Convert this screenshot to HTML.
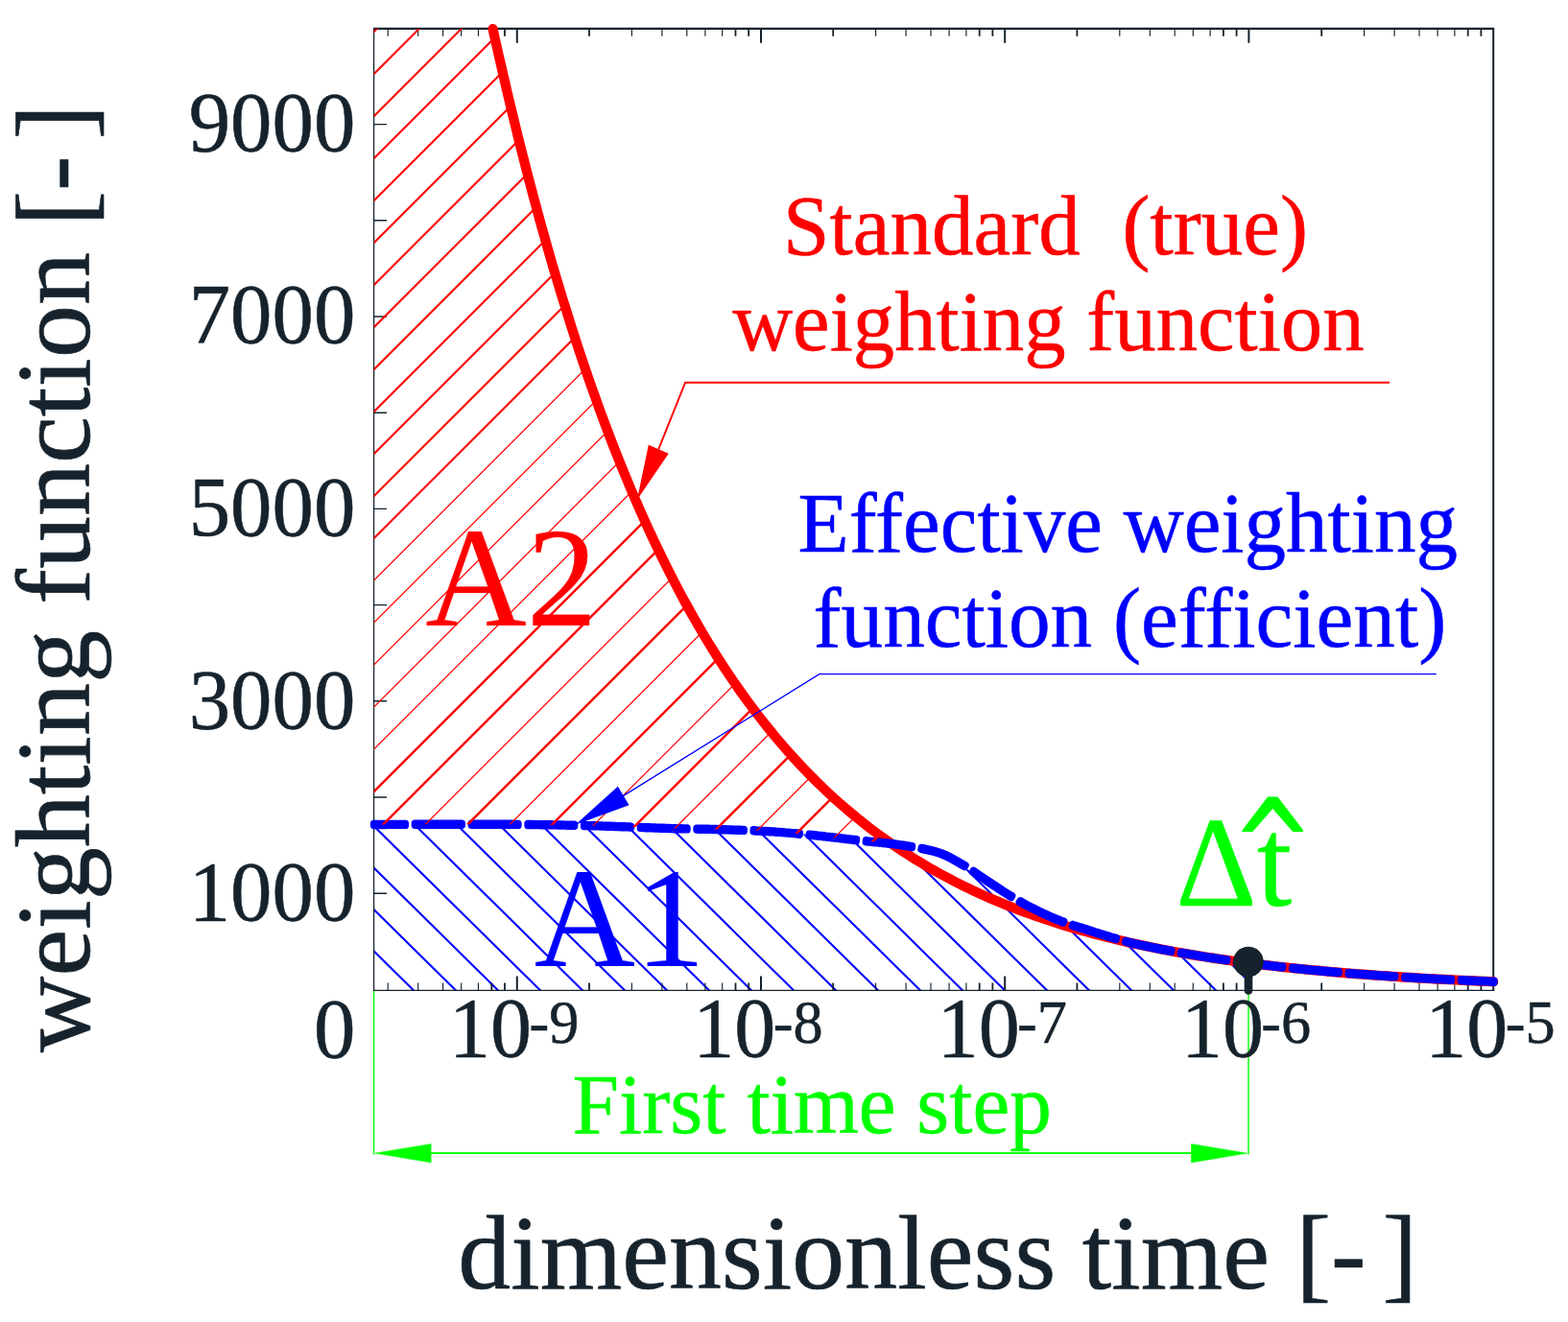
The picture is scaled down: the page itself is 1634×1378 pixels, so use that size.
<!DOCTYPE html>
<html lang="en"><head><meta charset="utf-8"><title>Weighting function</title>
<style>html,body{margin:0;padding:0;background:#fff}svg{display:block}</style></head>
<body>
<svg width="1634" height="1378" viewBox="0 0 1634 1378" role="img" aria-label="Weighting function versus dimensionless time">
<rect width="1634" height="1378" fill="#fff"/>
<defs>
<clipPath id="cb"><path d="M389.6 1032.4 L389.6 859.5 L393.6 859.5 L397.6 859.5 L401.6 859.5 L405.6 859.4 L409.6 859.4 L413.6 859.4 L417.6 859.4 L421.6 859.4 L425.6 859.4 L429.6 859.3 L433.6 859.3 L437.6 859.3 L441.6 859.3 L445.6 859.3 L449.6 859.3 L453.6 859.3 L457.6 859.3 L461.6 859.3 L465.6 859.3 L469.6 859.3 L473.6 859.3 L477.6 859.3 L481.6 859.3 L485.6 859.3 L489.6 859.3 L493.6 859.3 L497.6 859.3 L501.6 859.3 L505.6 859.3 L509.6 859.3 L513.6 859.3 L517.6 859.3 L521.6 859.3 L525.6 859.3 L529.6 859.3 L533.6 859.3 L537.6 859.4 L541.6 859.4 L545.6 859.4 L549.6 859.5 L553.6 859.5 L557.6 859.6 L561.6 859.6 L565.6 859.7 L569.6 859.8 L573.6 859.8 L577.6 859.9 L581.6 860 L585.6 860 L589.6 860.1 L593.6 860.2 L597.6 860.3 L601.6 860.3 L605.6 860.4 L609.6 860.5 L613.6 860.6 L617.6 860.7 L621.6 860.9 L625.6 861 L629.6 861.1 L633.6 861.2 L637.6 861.4 L641.6 861.5 L645.6 861.7 L649.6 861.8 L653.6 861.9 L657.6 862.1 L661.6 862.2 L665.6 862.4 L669.6 862.5 L673.6 862.7 L677.6 862.8 L681.6 863 L685.6 863.1 L689.6 863.3 L693.6 863.4 L697.6 863.5 L701.6 863.6 L705.6 863.7 L709.6 863.8 L713.6 863.9 L717.6 864 L721.6 864 L725.6 864.1 L729.6 864.2 L733.6 864.3 L737.6 864.3 L741.6 864.4 L745.6 864.5 L749.6 864.6 L753.6 864.7 L757.6 864.8 L761.6 865 L765.6 865.1 L769.6 865.2 L773.6 865.4 L777.6 865.5 L781.6 865.7 L785.6 865.9 L789.6 866 L793.6 866.2 L797.6 866.4 L801.6 866.7 L805.6 866.9 L809.6 867.2 L813.6 867.5 L817.6 867.8 L821.6 868.1 L825.6 868.5 L829.6 868.8 L833.6 869.2 L837.6 869.6 L841.6 870 L845.6 870.4 L849.6 870.8 L853.6 871.2 L857.6 871.7 L861.6 872.1 L865.6 872.6 L869.6 873 L873.6 873.5 L877.6 874 L881.6 874.4 L885.6 874.9 L889.6 875.4 L893.6 875.8 L897.6 876.3 L901.6 876.7 L905.6 877.1 L909.6 877.5 L913.6 877.9 L917.6 878.3 L921.6 878.7 L925.6 879.1 L929.6 879.6 L933.6 880.1 L937.6 880.7 L941.6 881.2 L945.6 881.9 L949.6 882.5 L953.6 883.2 L957.6 883.9 L961.6 884.7 L965.6 885.5 L969.6 886.5 L973.6 887.5 L977.6 888.7 L981.6 890 L985.6 891.7 L989.6 893.7 L993.6 895.9 L997.6 898.1 L1001.6 900.5 L1005.6 902.8 L1009.6 905.3 L1013.6 907.9 L1017.6 910.7 L1021.6 913.4 L1025.6 916.1 L1029.6 918.7 L1033.6 921.4 L1037.6 924 L1041.6 926.7 L1045.6 929.3 L1049.6 931.8 L1053.6 934.2 L1057.6 936.6 L1061.6 939 L1065.6 941.2 L1069.6 943.5 L1073.6 945.6 L1077.6 947.6 L1081.6 949.5 L1085.6 951.4 L1089.6 953.3 L1093.6 955.1 L1097.6 956.8 L1101.6 958.5 L1105.6 960.1 L1109.6 961.6 L1113.6 963 L1117.6 964.3 L1121.6 965.6 L1125.6 966.9 L1129.6 968.1 L1133.6 969.4 L1137.6 970.6 L1141.6 971.9 L1145.6 973.2 L1149.6 974.4 L1153.6 975.7 L1157.6 976.9 L1161.6 978.1 L1165.6 979.2 L1169.6 980.4 L1173.6 981.5 L1177.6 982.5 L1181.6 983.5 L1185.6 984.4 L1189.6 985.2 L1193.6 986.1 L1197.6 986.9 L1201.6 987.7 L1205.6 988.5 L1209.6 989.3 L1213.6 990.1 L1217.6 990.8 L1221.6 991.6 L1225.6 992.3 L1229.6 993 L1233.6 993.7 L1237.6 994.4 L1241.6 995.1 L1245.6 995.7 L1249.6 996.4 L1253.6 997 L1257.6 997.7 L1261.6 998.3 L1265.6 998.9 L1269.6 999.5 L1273.6 1000.1 L1277.6 1000.6 L1281.6 1001.2 L1285.6 1001.8 L1289.6 1002.3 L1293.6 1002.8 L1297.6 1003.4 L1301 1003.8 L1301 1032.4Z"/></clipPath>
<clipPath id="cr"><path d="M389.6 29.9 L389.6 859.5 L389.6 859.5 L393.6 859.5 L397.6 859.5 L401.6 859.5 L405.6 859.4 L409.6 859.4 L413.6 859.4 L417.6 859.4 L421.6 859.4 L425.6 859.4 L429.6 859.3 L433.6 859.3 L437.6 859.3 L441.6 859.3 L445.6 859.3 L449.6 859.3 L453.6 859.3 L457.6 859.3 L461.6 859.3 L465.6 859.3 L469.6 859.3 L473.6 859.3 L477.6 859.3 L481.6 859.3 L485.6 859.3 L489.6 859.3 L493.6 859.3 L497.6 859.3 L501.6 859.3 L505.6 859.3 L509.6 859.3 L513.6 859.3 L517.6 859.3 L521.6 859.3 L525.6 859.3 L529.6 859.3 L533.6 859.3 L537.6 859.4 L541.6 859.4 L545.6 859.4 L549.6 859.5 L553.6 859.5 L557.6 859.6 L561.6 859.6 L565.6 859.7 L569.6 859.8 L573.6 859.8 L577.6 859.9 L581.6 860 L585.6 860 L589.6 860.1 L593.6 860.2 L597.6 860.3 L601.6 860.3 L605.6 860.4 L609.6 860.5 L613.6 860.6 L617.6 860.7 L621.6 860.9 L625.6 861 L629.6 861.1 L633.6 861.2 L637.6 861.4 L641.6 861.5 L645.6 861.7 L649.6 861.8 L653.6 861.9 L657.6 862.1 L661.6 862.2 L665.6 862.4 L669.6 862.5 L673.6 862.7 L677.6 862.8 L681.6 863 L685.6 863.1 L689.6 863.3 L693.6 863.4 L697.6 863.5 L701.6 863.6 L705.6 863.7 L709.6 863.8 L713.6 863.9 L717.6 864 L721.6 864 L725.6 864.1 L729.6 864.2 L733.6 864.3 L737.6 864.3 L741.6 864.4 L745.6 864.5 L749.6 864.6 L753.6 864.7 L757.6 864.8 L761.6 865 L765.6 865.1 L769.6 865.2 L773.6 865.4 L777.6 865.5 L781.6 865.7 L785.6 865.9 L789.6 866 L793.6 866.2 L797.6 866.4 L801.6 866.7 L805.6 866.9 L809.6 867.2 L813.6 867.5 L817.6 867.8 L821.6 868.1 L825.6 868.5 L829.6 868.8 L833.6 869.2 L837.6 869.6 L841.6 870 L845.6 870.4 L849.6 870.8 L853.6 871.2 L857.6 871.7 L861.6 872.1 L865.6 872.6 L869.6 873 L873.6 873.5 L877.6 874 L881.6 874.4 L885.6 874.9 L889.6 875.4 L893.6 875.8 L897.6 876.3 L901.6 876.7 L905.6 877.1 L909.6 877.5 L913.6 877.9 L917.6 878.3 L921.6 878.7 L925.6 879.1 L929.5 879.6 L923.6 875.7 L917.6 871.4 L911.6 867 L905.6 862.4 L899.6 857.7 L893.6 852.9 L887.6 848 L881.6 842.9 L875.6 837.7 L869.6 832.4 L863.6 826.9 L857.6 821.2 L851.6 815.4 L845.6 809.4 L839.6 803.3 L834.6 798 L827.2 790 L820 782 L813.1 774 L806.3 766 L799.8 758 L793.5 750 L787.3 742 L781.3 734 L775.4 726 L769.7 718 L764.2 710 L758.8 702 L753.5 694 L748.3 686 L743.3 678 L738.3 670 L733.5 662 L728.8 654 L724.2 646 L719.6 638 L715.2 630 L710.8 622 L706.6 614 L702.4 606 L698.3 598 L694.3 590 L690.3 582 L686.4 574 L682.6 566 L678.8 558 L675.1 550 L671.5 542 L667.9 534 L664.4 526 L660.9 518 L657.5 510.1 L654.2 502.1 L650.9 494.1 L647.6 486.1 L644.4 478.1 L641.2 470.1 L638.1 462.1 L635 454.1 L632 446.1 L629 438.1 L626 430.1 L623.1 422.1 L620.3 414.1 L617.4 406.1 L614.6 398.1 L611.8 390.1 L609.1 382.1 L606.4 374.1 L603.7 366.1 L601.1 358.1 L598.5 350.1 L595.9 342.1 L593.4 334.1 L590.9 326.1 L588.4 318.1 L585.9 310.1 L583.5 302.1 L581.1 294.1 L578.7 286.1 L576.3 278.1 L574 270.1 L571.7 262.1 L569.4 254.1 L567.2 246.1 L564.9 238.1 L562.7 230.1 L560.5 222.1 L558.4 214.1 L556.2 206.1 L554.1 198.1 L552 190.1 L549.9 182.1 L547.8 174.1 L545.8 166.1 L543.7 158.1 L541.7 150.1 L539.7 142.1 L537.8 134.1 L535.8 126 L533.9 118 L531.9 110 L530 102 L528.1 94 L526.3 86 L524.4 78 L522.6 70 L520.7 62 L518.9 54 L517.1 46 L515.3 38 L513.6 30.1Z"/></clipPath>
</defs>
<path d="M384.6 1247.1L1306 2156.5M384.6 1203.6L1306 2113.1M384.6 1160.2L1306 2069.6M384.6 1116.8L1306 2026.2M384.6 1073.4L1306 1982.8M384.6 1029.9L1306 1939.3M384.6 986.5L1306 1895.9M384.6 943.1L1306 1852.5M384.6 899.6L1306 1809.1M384.6 856.2L1306 1765.6M384.6 812.8L1306 1722.2M384.6 769.4L1306 1678.8M384.6 725.9L1306 1635.4M384.6 682.5L1306 1591.9M384.6 639.1L1306 1548.5M384.6 595.6L1306 1505.1M384.6 552.2L1306 1461.6M384.6 508.8L1306 1418.2M384.6 465.4L1306 1374.8M384.6 421.9L1306 1331.4M384.6 378.5L1306 1287.9M384.6 335.1L1306 1244.5M384.6 291.7L1306 1201.1M384.6 248.2L1306 1157.6M384.6 204.8L1306 1114.2M384.6 161.4L1306 1070.8M384.6 117.9L1306 1027.4M384.6 74.5L1306 983.9M384.6 31.1L1306 940.5M384.6 -12.3L1306 897.1M384.6 -55.8L1306 853.6M384.6 -99.2L1306 810.2M384.6 -142.6L1306 766.8M384.6 -186.1L1306 723.4M384.6 -229.5L1306 679.9M384.6 -272.9L1306 636.5" stroke="#0000ff" stroke-width="2.1" fill="none" clip-path="url(#cb)"/>
<g stroke="#16232d" fill="none">
<path d="M389.6 29.95V1033.0" stroke-width="1.3"/>
<path d="M389.0 1032.4H1557.2" stroke-width="1.3"/>
<path d="M389.0 29.95H1557.2" stroke-width="2.2"/>
<path d="M1556.2 29.95V1033.0" stroke-width="2"/>
<path d="M404.2 1032.4v-7.9M404.2 29.95v7.9M435.7 1032.4v-7.9M435.7 29.95v7.9M461.6 1032.4v-7.9M461.6 29.95v7.9M480.7 1032.4v-7.9M480.7 29.95v7.9M498.5 1032.4v-7.9M498.5 29.95v7.9M658.4 1032.4v-7.9M658.4 29.95v7.9M689.9 1032.4v-7.9M689.9 29.95v7.9M715.8 1032.4v-7.9M715.8 29.95v7.9M734.9 1032.4v-7.9M734.9 29.95v7.9M752.7 1032.4v-7.9M752.7 29.95v7.9M912.6 1032.4v-7.9M912.6 29.95v7.9M944.1 1032.4v-7.9M944.1 29.95v7.9M970 1032.4v-7.9M970 29.95v7.9M989.1 1032.4v-7.9M989.1 29.95v7.9M1006.9 1032.4v-7.9M1006.9 29.95v7.9M1166.8 1032.4v-7.9M1166.8 29.95v7.9M1198.3 1032.4v-7.9M1198.3 29.95v7.9M1224.2 1032.4v-7.9M1224.2 29.95v7.9M1243.3 1032.4v-7.9M1243.3 29.95v7.9M1261.1 1032.4v-7.9M1261.1 29.95v7.9M1421.6 1032.4v-7.9M1421.6 29.95v7.9M1453.1 1032.4v-7.9M1453.1 29.95v7.9M1479 1032.4v-7.9M1479 29.95v7.9M1498.1 1032.4v-7.9M1498.1 29.95v7.9M1515.9 1032.4v-7.9M1515.9 29.95v7.9" stroke-width="1.15"/>
<path d="M512.3 1032.4v-7.9M512.3 29.95v7.9M526 1032.4v-7.9M526 29.95v7.9M614 1032.4v-7.9M614 29.95v7.9M766.5 1032.4v-7.9M766.5 29.95v7.9M780.2 1032.4v-7.9M780.2 29.95v7.9M868.2 1032.4v-7.9M868.2 29.95v7.9M1020.7 1032.4v-7.9M1020.7 29.95v7.9M1034.4 1032.4v-7.9M1034.4 29.95v7.9M1122.4 1032.4v-7.9M1122.4 29.95v7.9M1274.9 1032.4v-7.9M1274.9 29.95v7.9M1288.6 1032.4v-7.9M1288.6 29.95v7.9M1377.2 1032.4v-7.9M1377.2 29.95v7.9M1529.7 1032.4v-7.9M1529.7 29.95v7.9M1543.4 1032.4v-7.9M1543.4 29.95v7.9" stroke-width="1.8"/>
<path d="M538.8 1032.4v-14.9M538.8 29.95v14.9M793 1032.4v-14.9M793 29.95v14.9M1047.2 1032.4v-14.9M1047.2 29.95v14.9M1301.4 1032.4v-14.9M1301.4 29.95v14.9" stroke-width="2"/>
<path d="M389.6 931.2h13.5M389.6 831h13.5M389.6 730.8h13.5M389.6 630.6h13.5M389.6 530.4h13.5M389.6 430.2h13.5M389.6 330h13.5M389.6 229.8h13.5M389.6 129.6h13.5" stroke-width="1.4"/>
</g>
<path d="M513.6 30.1 L515.3 38 L517.1 46 L518.9 54 L520.7 62 L522.6 70 L524.4 78 L526.3 86 L528.1 94 L530 102 L531.9 110 L533.9 118 L535.8 126 L537.8 134.1 L539.7 142.1 L541.7 150.1 L543.7 158.1 L545.8 166.1 L547.8 174.1 L549.9 182.1 L552 190.1 L554.1 198.1 L556.2 206.1 L558.4 214.1 L560.5 222.1 L562.7 230.1 L564.9 238.1 L567.2 246.1 L569.4 254.1 L571.7 262.1 L574 270.1 L576.3 278.1 L578.7 286.1 L581.1 294.1 L583.5 302.1 L585.9 310.1 L588.4 318.1 L590.9 326.1 L593.4 334.1 L595.9 342.1 L598.5 350.1 L601.1 358.1 L603.7 366.1 L606.4 374.1 L609.1 382.1 L611.8 390.1 L614.6 398.1 L617.4 406.1 L620.3 414.1 L623.1 422.1 L626 430.1 L629 438.1 L632 446.1 L635 454.1 L638.1 462.1 L641.2 470.1 L644.4 478.1 L647.6 486.1 L650.9 494.1 L654.2 502.1 L657.5 510.1 L660.9 518 L664.4 526 L667.9 534 L671.5 542 L675.1 550 L678.8 558 L682.6 566 L686.4 574 L690.3 582 L694.3 590 L698.3 598 L702.4 606 L706.6 614 L710.8 622 L715.2 630 L719.6 638 L724.2 646 L728.8 654 L733.5 662 L738.3 670 L743.3 678 L748.3 686 L753.5 694 L758.8 702 L764.2 710 L769.7 718 L775.4 726 L781.3 734 L787.3 742 L793.5 750 L799.8 758 L806.3 766 L813.1 774 L820 782 L827.2 790 L834.6 798 L839.6 803.3 L845.6 809.4 L851.6 815.4 L857.6 821.2 L863.6 826.9 L869.6 832.4 L875.6 837.7 L881.6 842.9 L887.6 848 L893.6 852.9 L899.6 857.7 L905.6 862.4 L911.6 867 L917.6 871.4 L923.6 875.7 L929.6 879.9 L935.6 884 L941.6 887.9 L947.6 891.8 L953.6 895.6 L959.6 899.2 L965.6 902.8 L971.6 906.3 L977.6 909.6 L983.6 912.9 L989.6 916.1 L995.6 919.2 L1001.6 922.3 L1007.6 925.2 L1013.6 928.1 L1019.6 930.9 L1025.6 933.6 L1031.6 936.2 L1037.6 938.8 L1043.6 941.3 L1049.6 943.7 L1055.6 946.1 L1061.6 948.4 L1067.6 950.6 L1073.6 952.8 L1079.6 955 L1085.6 957 L1091.6 959 L1097.6 961 L1103.6 962.9 L1109.6 964.8 L1115.6 966.6 L1121.6 968.3 L1127.6 970 L1133.6 971.7 L1139.6 973.3 L1145.6 974.9 L1151.6 976.4 L1157.6 977.9 L1163.6 979.4 L1169.6 980.8 L1175.6 982.2 L1181.6 983.5 L1187.6 984.8 L1193.6 986.1 L1199.6 987.3 L1205.6 988.5 L1211.6 989.7 L1217.6 990.8 L1223.6 991.9 L1229.6 993 L1235.6 994.1 L1241.6 995.1 L1247.6 996.1 L1253.6 997 L1259.6 998 L1265.6 998.9 L1271.6 999.8 L1277.6 1000.6 L1283.6 1001.5 L1289.6 1002.3 L1295.6 1003.1 L1301.6 1003.9 L1307.6 1004.6 L1313.6 1005.4 L1319.6 1006.1 L1325.6 1006.8 L1331.6 1007.5 L1337.6 1008.1 L1343.6 1008.8 L1349.6 1009.4 L1355.6 1010 L1361.6 1010.6 L1367.6 1011.2 L1373.6 1011.7 L1379.6 1012.3 L1385.6 1012.8 L1391.6 1013.3 L1397.6 1013.8 L1403.6 1014.3 L1409.6 1014.8 L1415.6 1015.3 L1421.6 1015.7 L1427.6 1016.2 L1433.6 1016.6 L1439.6 1017 L1445.6 1017.4 L1451.6 1017.8 L1457.6 1018.2 L1463.6 1018.6 L1469.6 1018.9 L1475.6 1019.3 L1481.6 1019.6 L1487.6 1020 L1493.6 1020.3 L1499.6 1020.6 L1505.6 1020.9 L1511.6 1021.2 L1517.6 1021.5 L1523.6 1021.8 L1529.6 1022.1 L1535.6 1022.3 L1541.6 1022.6 L1547.6 1022.9 L1553.6 1023.1 L1556.2 1023.2" stroke="#ff0000" stroke-width="10.2" fill="none" stroke-linecap="round" stroke-linejoin="round"/>
<path d="M389.6 860.5 L391.8 860.5 L394.8 860.5 L397.8 860.5 L400.8 860.5 L403.8 860.4 L406.8 860.4 L409.8 860.4 L412.8 860.4 L415.8 860.4 L418.8 860.4 L421.8 860.4 L422.4 860.4 L422.4 858.4 L421.8 858.4 L418.8 858.4 L415.8 858.4 L412.8 858.4 L409.8 858.4 L406.8 858.4 L403.8 858.4 L400.8 858.5 L397.8 858.5 L394.8 858.5 L391.8 858.5 L389.6 858.5ZM432.4 860.3 L435.4 860.3 L438.4 860.3 L441.4 860.3 L444.4 860.3 L447.4 860.3 L450.4 860.3 L453.4 860.3 L456.4 860.3 L459.4 860.3 L462.4 860.3 L465.4 860.3 L468.4 860.3 L471.4 860.3 L474.4 860.3 L477.4 860.3 L480.4 860.3 L481.3 860.3 L481.3 858.3 L480.4 858.3 L477.4 858.3 L474.4 858.3 L471.4 858.3 L468.4 858.3 L465.4 858.3 L462.4 858.3 L459.4 858.3 L456.4 858.3 L453.4 858.3 L450.4 858.3 L447.4 858.3 L444.4 858.3 L441.4 858.3 L438.4 858.3 L435.4 858.3 L432.4 858.3ZM491.3 860.3 L494.3 860.3 L497.3 860.3 L500.3 860.3 L503.3 860.3 L506.3 860.3 L509.3 860.3 L512.3 860.3 L515.3 860.3 L518.3 860.3 L521.3 860.3 L524.3 860.3 L527.3 860.3 L530.3 860.3 L533.3 860.3 L536.3 860.4 L539.3 860.4 L540 860.4 L540 858.4 L539.3 858.4 L536.3 858.4 L533.3 858.3 L530.3 858.3 L527.3 858.3 L524.3 858.3 L521.3 858.3 L518.3 858.3 L515.3 858.3 L512.3 858.3 L509.3 858.3 L506.3 858.3 L503.3 858.3 L500.3 858.3 L497.3 858.3 L494.3 858.3 L491.3 858.3ZM550 860.5 L553 860.5 L556 860.6 L559 860.6 L562 860.6 L565 860.7 L568 860.7 L571 860.8 L574 860.8 L577 860.9 L580 860.9 L583 861 L586 861 L589 861.1 L592 861.2 L595 861.2 L598 861.3 L598.6 861.3 L598.6 859.3 L598 859.3 L595 859.2 L592 859.2 L589 859.1 L586 859 L583 859 L580 858.9 L577 858.9 L574 858.8 L571 858.8 L568 858.7 L565 858.7 L562 858.6 L559 858.6 L556 858.6 L553 858.5 L550 858.5ZM608.6 861.5 L611.6 861.6 L614.6 861.6 L617.6 861.7 L620.6 861.8 L623.6 861.9 L626.6 862 L629.6 862.1 L632.6 862.2 L635.6 862.3 L638.5 862.4 L641.5 862.5 L644.5 862.6 L647.5 862.7 L650.5 862.8 L653.5 862.9 L656.5 863 L657.4 863.1 L657.4 861.1 L656.6 861 L653.6 860.9 L650.6 860.8 L647.6 860.7 L644.6 860.6 L641.6 860.5 L638.6 860.4 L635.6 860.3 L632.6 860.2 L629.6 860.1 L626.6 860 L623.6 859.9 L620.6 859.8 L617.6 859.7 L614.6 859.6 L611.6 859.6 L608.6 859.5ZM667.4 863.4 L670.4 863.6 L673.4 863.7 L676.4 863.8 L679.3 863.9 L682.3 864 L685.3 864.1 L688.3 864.2 L691.3 864.3 L694.3 864.4 L697.3 864.5 L700.3 864.6 L703.4 864.7 L706.4 864.8 L709.4 864.8 L712.4 864.9 L715.4 864.9 L716 864.9 L716 862.9 L715.4 862.9 L712.4 862.9 L709.4 862.8 L706.4 862.8 L703.4 862.7 L700.4 862.6 L697.4 862.5 L694.4 862.4 L691.4 862.3 L688.4 862.2 L685.4 862.1 L682.4 862 L679.4 861.9 L676.4 861.8 L673.4 861.7 L670.4 861.6 L667.4 861.4ZM726 865.1 L729 865.2 L732 865.2 L735 865.3 L738 865.3 L741 865.4 L744 865.5 L747 865.5 L750 865.6 L753 865.7 L756 865.8 L759 865.9 L762 866 L765 866.1 L768 866.2 L770.9 866.3 L773.9 866.4 L775.2 866.4 L775.2 864.4 L774 864.4 L771 864.3 L768 864.2 L765 864.1 L762 864 L759 863.9 L756 863.8 L753 863.7 L750 863.6 L747 863.5 L744 863.5 L741 863.4 L738 863.3 L735 863.3 L732 863.2 L729 863.2 L726 863.1ZM785.2 866.8 L788.1 867 L791.1 867.1 L794.1 867.3 L797.1 867.4 L800.1 867.6 L803.1 867.8 L806.1 867.9 L809.1 868.2 L812.1 868.4 L815.1 868.6 L818 868.8 L821 869.1 L824 869.4 L827 869.6 L830 869.9 L833.1 870.2 L833.3 868.2 L830.2 867.9 L827.2 867.6 L824.2 867.4 L821.2 867.1 L818.2 866.9 L815.2 866.6 L812.2 866.4 L809.2 866.2 L806.2 865.9 L803.2 865.8 L800.2 865.6 L797.2 865.4 L794.2 865.3 L791.2 865.1 L788.2 865 L785.2 864.8ZM843.1 871.1 L846.1 871.4 L849 871.7 L852 872.1 L855 872.4 L858 872.7 L861 873.1 L863.9 873.4 L866.9 873.7 L869.9 874.1 L872.9 874.4 L875.9 874.8 L878.8 875.1 L881.8 875.5 L884.8 875.8 L887.8 876.2 L890.8 876.5 L892.3 876.7 L892.5 874.7 L891 874.5 L888 874.2 L885 873.8 L882 873.5 L879.1 873.1 L876.1 872.8 L873.1 872.4 L870.1 872.1 L867.1 871.8 L864.2 871.4 L861.2 871.1 L858.2 870.7 L855.2 870.4 L852.2 870.1 L849.3 869.8 L846.3 869.4 L843.3 869.1ZM902.3 877.8 L905.3 878.1 L908.2 878.4 L911.2 878.7 L914.2 878.9 L917.2 879.2 L920.2 879.6 L923.2 879.9 L926.1 880.2 L929.1 880.6 L932.1 880.9 L935 881.3 L938 881.7 L941 882.2 L943.9 882.6 L946.9 883.1 L950.2 883.6 L950.5 881.6 L947.2 881.1 L944.2 880.6 L941.3 880.2 L938.3 879.8 L935.3 879.4 L932.3 879 L929.3 878.6 L926.4 878.2 L923.4 877.9 L920.4 877.6 L917.4 877.3 L914.4 877 L911.4 876.7 L908.4 876.4 L905.5 876.1 L902.5 875.8ZM960 885.4 L963 886 L965.9 886.6 L968.8 887.3 L971.7 888 L974.5 888.8 L977.4 889.6 L980.2 890.6 L982.9 891.7 L985.6 892.9 L988.3 894.2 L990.9 895.5 L993.6 897 L996.2 898.5 L998.8 900 L1001.3 901.5 L1003.9 903 L1005 903.6 L1006.1 901.9 L1004.9 901.2 L1002.3 899.7 L999.8 898.2 L997.2 896.7 L994.5 895.2 L991.9 893.8 L989.2 892.4 L986.5 891 L983.7 889.8 L980.9 888.7 L978 887.7 L975.1 886.9 L972.2 886.1 L969.2 885.3 L966.3 884.7 L963.4 884 L960.4 883.4ZM1013.4 909 L1015.9 910.7 L1018.4 912.4 L1020.8 914.1 L1023.3 915.8 L1025.8 917.5 L1028.3 919.1 L1030.8 920.8 L1033.3 922.4 L1035.8 924.1 L1038.3 925.7 L1040.8 927.4 L1043.4 929 L1045.9 930.6 L1048.4 932.3 L1051 933.8 L1053.7 935.5 L1054.7 933.7 L1052 932.1 L1049.5 930.6 L1047 929 L1044.4 927.3 L1041.9 925.7 L1039.4 924.1 L1036.9 922.4 L1034.4 920.7 L1031.9 919.1 L1029.4 917.4 L1026.9 915.8 L1024.4 914.1 L1022 912.4 L1019.5 910.7 L1017 909 L1014.5 907.4ZM1062.3 940.5 L1064.9 942 L1067.6 943.5 L1070.2 944.9 L1072.9 946.3 L1075.6 947.7 L1078.3 949 L1081 950.3 L1083.7 951.6 L1086.4 952.9 L1089.1 954.2 L1091.9 955.4 L1094.6 956.6 L1097.4 957.8 L1100.2 959 L1103 960.1 L1105.8 961.2 L1107.9 962 L1108.7 960.2 L1106.5 959.3 L1103.7 958.2 L1100.9 957.1 L1098.2 956 L1095.4 954.8 L1092.7 953.6 L1090 952.4 L1087.2 951.1 L1084.5 949.8 L1081.8 948.5 L1079.1 947.2 L1076.5 945.9 L1073.8 944.6 L1071.2 943.2 L1068.5 941.7 L1065.9 940.3 L1063.3 938.8ZM1117.4 965.3 L1120.3 966.3 L1123.2 967.2 L1126 968.1 L1128.9 968.9 L1131.7 969.8 L1134.6 970.7 L1137.5 971.7 L1140.3 972.6 L1143.2 973.5 L1146 974.4 L1148.9 975.3 L1151.8 976.2 L1154.7 977 L1157.5 977.9 L1160.4 978.7 L1162.9 979.5 L1163.5 977.6 L1161 976.8 L1158.1 976 L1155.2 975.1 L1152.4 974.2 L1149.5 973.4 L1146.6 972.5 L1143.8 971.6 L1140.9 970.7 L1138.1 969.7 L1135.2 968.8 L1132.3 967.9 L1129.5 967 L1126.6 966.1 L1123.8 965.3 L1120.9 964.4 L1118 963.4ZM1172.6 982.2 L1175.5 983 L1178.4 983.8 L1181.3 984.5 L1184.3 985.1 L1187.2 985.7 L1190.1 986.4 L1193.1 987 L1196 987.6 L1198.9 988.2 L1201.9 988.8 L1204.8 989.4 L1207.8 990 L1210.7 990.5 L1213.7 991.1 L1216.6 991.6 L1219.6 992.2 L1220.5 992.4 L1220.9 990.4 L1219.9 990.2 L1217 989.7 L1214.1 989.1 L1211.1 988.6 L1208.2 988 L1205.2 987.4 L1202.3 986.8 L1199.3 986.2 L1196.4 985.6 L1193.5 985 L1190.5 984.4 L1187.6 983.8 L1184.7 983.2 L1181.8 982.5 L1178.9 981.8 L1176 981.1 L1173.1 980.3ZM1230.3 994.1 L1233.3 994.7 L1236.3 995.2 L1239.2 995.7 L1242.2 996.2 L1245.1 996.7 L1248.1 997.2 L1251.1 997.6 L1254 998.1 L1257 998.6 L1260 999 L1262.9 999.5 L1265.9 999.9 L1268.9 1000.4 L1271.8 1000.8 L1274.8 1001.3 L1277.8 1001.7 L1278.5 1001.8 L1278.8 999.8 L1278.1 999.7 L1275.1 999.3 L1272.1 998.8 L1269.2 998.4 L1266.2 998 L1263.2 997.5 L1260.3 997.1 L1257.3 996.6 L1254.3 996.1 L1251.4 995.7 L1248.4 995.2 L1245.5 994.7 L1242.5 994.2 L1239.6 993.7 L1236.6 993.2 L1233.6 992.7 L1230.7 992.2ZM1288.4 1003.2 L1291.4 1003.6 L1294.4 1004 L1297.3 1004.3 L1300.3 1004.7 L1303.3 1005.1 L1306.3 1005.5 L1309.3 1005.9 L1312.2 1006.2 L1315.2 1006.6 L1318.2 1006.9 L1321.2 1007.3 L1324.2 1007.6 L1327.1 1008 L1330.1 1008.3 L1333.1 1008.6 L1336.5 1009 L1336.7 1007 L1333.3 1006.7 L1330.3 1006.3 L1327.4 1006 L1324.4 1005.6 L1321.4 1005.3 L1318.4 1005 L1315.5 1004.6 L1312.5 1004.2 L1309.5 1003.9 L1306.5 1003.5 L1303.6 1003.1 L1300.6 1002.7 L1297.6 1002.4 L1294.6 1002 L1291.7 1001.6 L1288.7 1001.2ZM1346.5 1010.1 L1349.5 1010.4 L1352.4 1010.7 L1355.4 1011 L1358.4 1011.3 L1361.4 1011.6 L1364.4 1011.9 L1367.4 1012.2 L1370.4 1012.4 L1373.4 1012.7 L1376.3 1013 L1379.3 1013.3 L1382.3 1013.5 L1385.3 1013.8 L1388.3 1014.1 L1391.3 1014.3 L1394.3 1014.6 L1395.2 1014.6 L1395.4 1012.7 L1394.4 1012.6 L1391.5 1012.3 L1388.5 1012.1 L1385.5 1011.8 L1382.5 1011.5 L1379.5 1011.3 L1376.5 1011 L1373.5 1010.7 L1370.5 1010.5 L1367.6 1010.2 L1364.6 1009.9 L1361.6 1009.6 L1358.6 1009.3 L1355.6 1009 L1352.6 1008.7 L1349.7 1008.4 L1346.7 1008.1ZM1405.2 1015.5 L1408.2 1015.7 L1411.2 1015.9 L1414.2 1016.2 L1417.2 1016.4 L1420.2 1016.6 L1423.2 1016.8 L1426.2 1017.1 L1429.1 1017.3 L1432.1 1017.5 L1435.1 1017.7 L1438.1 1017.9 L1441.1 1018.1 L1444.1 1018.3 L1447.1 1018.5 L1450.1 1018.7 L1453.1 1018.9 L1453.7 1018.9 L1453.9 1017 L1453.2 1016.9 L1450.2 1016.7 L1447.2 1016.5 L1444.2 1016.3 L1441.3 1016.1 L1438.3 1015.9 L1435.3 1015.7 L1432.3 1015.5 L1429.3 1015.3 L1426.3 1015.1 L1423.3 1014.8 L1420.3 1014.6 L1417.3 1014.4 L1414.3 1014.2 L1411.3 1013.9 L1408.4 1013.7 L1405.4 1013.5ZM1463.7 1019.6 L1466.7 1019.8 L1469.7 1019.9 L1472.7 1020.1 L1475.7 1020.3 L1478.7 1020.5 L1481.7 1020.6 L1484.7 1020.8 L1487.7 1021 L1490.7 1021.1 L1493.7 1021.3 L1496.7 1021.5 L1499.7 1021.6 L1502.7 1021.8 L1505.7 1021.9 L1508.7 1022.1 L1511.7 1022.2 L1512.5 1022.3 L1512.6 1020.3 L1511.8 1020.2 L1508.8 1020.1 L1505.8 1019.9 L1502.8 1019.8 L1499.8 1019.6 L1496.8 1019.5 L1493.8 1019.3 L1490.8 1019.1 L1487.8 1019 L1484.8 1018.8 L1481.8 1018.6 L1478.8 1018.5 L1475.8 1018.3 L1472.8 1018.1 L1469.8 1017.9 L1466.8 1017.8 L1463.9 1017.6ZM1522.4 1022.7 L1525.4 1022.9 L1528.4 1023 L1531.4 1023.2 L1534.4 1023.3 L1537.4 1023.4 L1540.4 1023.6 L1543.4 1023.7 L1546.4 1023.8 L1549.4 1023.9 L1552.4 1024.1 L1555.4 1024.2 L1557 1024.2 L1557 1022.2 L1555.5 1022.2 L1552.5 1022.1 L1549.5 1021.9 L1546.5 1021.8 L1543.5 1021.7 L1540.5 1021.6 L1537.5 1021.4 L1534.5 1021.3 L1531.5 1021.2 L1528.5 1021 L1525.5 1020.9 L1522.5 1020.7Z" stroke="#0000ff" stroke-width="7.4" fill="#0000ff" stroke-linejoin="round"/>
<g clip-path="url(#cr)" stroke="#ff0000" fill="none"><path d="M384.6 -5.9L1000 -621.3M384.6 38.1L1000 -577.3M384.6 82.1L1000 -533.3M384.6 126.1L1000 -489.3M384.6 170.1L1000 -445.3M384.6 214.1L1000 -401.3M384.6 258.1L1000 -357.3M384.6 302.1L1000 -313.3M384.6 346.1L1000 -269.3M384.6 390.1L1000 -225.3M384.6 434.1L1000 -181.3M384.6 478.1L1000 -137.3M384.6 522.1L1000 -93.3M384.6 566.1L1000 -49.3" stroke-width="2.05"/><path d="M384.6 610.1L1000 -5.3M384.6 654.1L1000 38.7M384.6 698.1L1000 82.7M384.6 742.1L1000 126.7M384.6 786.1L1000 170.7M384.6 918.1L1000 302.7M384.6 1006.1L1000 390.7M384.6 1094.1L1000 478.7M384.6 1182.1L1000 566.7M384.6 1270.1L1000 654.7M384.6 1358.1L1000 742.7M384.6 1446.1L1000 830.7M384.6 1534.1L1000 918.7M384.6 1622.1L1000 1006.7M384.6 1710.1L1000 1094.7" stroke-width="1.25"/><path d="M384.6 830.1L1000 214.7M384.6 874.1L1000 258.7M384.6 962.1L1000 346.7M384.6 1050.1L1000 434.7M384.6 1138.1L1000 522.7M384.6 1226.1L1000 610.7M384.6 1314.1L1000 698.7M384.6 1402.1L1000 786.7M384.6 1490.1L1000 874.7M384.6 1578.1L1000 962.7M384.6 1666.1L1000 1050.7M384.6 1754.1L1000 1138.7" stroke-width="2.4"/></g>
<path d="M1448 398.8H714.1L686 468.9" stroke="#ff0000" stroke-width="1.9" fill="none"/>
<path d="M665.5 517.2L676.4 464.8L695.6 473Z" fill="#ff0000" stroke="#ff0000" stroke-width="1.6" stroke-linejoin="miter" stroke-miterlimit="20"/>
<path d="M1496.8 702.7H853.8L649 829.9" stroke="#0000ff" stroke-width="1.3" fill="none"/>
<path d="M603.1 857.6L643.7 820.9L654.4 838.8Z" fill="#0000ff" stroke="#0000ff" stroke-width="1.6" stroke-linejoin="miter" stroke-miterlimit="20"/>
<path d="M389.6 1033.0V1203.6M1301.0 1034.4V1203.6" stroke="#00ff00" stroke-width="1.4" fill="none"/>
<path d="M419.6 1202.1H1271.0" stroke="#00ff00" stroke-width="2" fill="none"/>
<path d="M391.1 1202.1L449.1 1192.4L449.1 1211.8Z" fill="#00ff00" stroke="#00ff00" stroke-width="0.6" stroke-linejoin="miter" stroke-miterlimit="20"/>
<path d="M1299.5 1202.1L1241.5 1211.8L1241.5 1192.4Z" fill="#00ff00" stroke="#00ff00" stroke-width="0.6" stroke-linejoin="miter" stroke-miterlimit="20"/>
<path d="M1301.0 1003V1032.5" stroke="#16232d" stroke-width="8.6" stroke-linecap="round"/>
<circle cx="1300.9" cy="1002.5" r="15.8" fill="#16232d"/>
<g font-family="'Liberation Serif','DejaVu Serif',serif" font-size="100" style="font-variant-ligatures:none;white-space:pre" stroke-width="0.6" stroke-linejoin="round">
<text transform="translate(327.03 1102.00) scale(0.8690 0.8940)" fill="#16232d" stroke="#16232d">0</text>
<text transform="translate(196.68 959.00) scale(0.8690 0.8940)" fill="#16232d" stroke="#16232d">1000</text>
<text transform="translate(196.68 758.60) scale(0.8690 0.8940)" fill="#16232d" stroke="#16232d">3000</text>
<text transform="translate(196.68 558.20) scale(0.8690 0.8940)" fill="#16232d" stroke="#16232d">5000</text>
<text transform="translate(196.68 357.20) scale(0.8690 0.8940)" fill="#16232d" stroke="#16232d">7000</text>
<text transform="translate(196.68 156.80) scale(0.8690 0.8940)" fill="#16232d" stroke="#16232d">9000</text>
<text transform="translate(468.04 1101.4) scale(0.86 0.887)" fill="#16232d" stroke="#16232d">10<tspan font-size="72.4" dx="-3" dy="-16.3">-9</tspan></text>
<text transform="translate(722.34 1101.4) scale(0.86 0.887)" fill="#16232d" stroke="#16232d">10<tspan font-size="72.4" dx="-3" dy="-16.3">-8</tspan></text>
<text transform="translate(976.64 1101.4) scale(0.86 0.887)" fill="#16232d" stroke="#16232d">10<tspan font-size="72.4" dx="-3" dy="-16.3">-7</tspan></text>
<text transform="translate(1230.94 1101.4) scale(0.86 0.887)" fill="#16232d" stroke="#16232d">10<tspan font-size="72.4" dx="-3" dy="-16.3">-6</tspan></text>
<text transform="translate(1485.24 1101.4) scale(0.86 0.887)" fill="#16232d" stroke="#16232d">10<tspan font-size="72.4" dx="-3" dy="-16.3">-5</tspan></text>
<text transform="translate(596.48 1180.60) scale(0.8729 0.8920)" fill="#00ff00" stroke="#00ff00">First time step</text>
<text transform="translate(477.30 1343.30) scale(1.0993 1.1090)" fill="#16232d" stroke="#16232d">dimensionless time [- <tspan dx="-9.6">]</tspan></text>
<text transform="translate(92.5 1097.00) rotate(-90) scale(1.0999 1.109)" fill="#16232d" stroke="#16232d">weighting function [- <tspan dx="-9.6">]</tspan></text>
<text transform="translate(816.10 264.60) scale(0.8716 0.8900)" fill="#ff0000" stroke="#ff0000">Standard  (true)</text>
<text transform="translate(763.40 365.10) scale(0.8684 0.8900)" fill="#ff0000" stroke="#ff0000">weighting function</text>
<text transform="translate(831.44 574.90) scale(0.8710 0.8900)" fill="#0000ff" stroke="#0000ff">Effective weighting</text>
<text transform="translate(847.48 674.20) scale(0.8726 0.8900)" fill="#0000ff" stroke="#0000ff">function (efficient)</text>
<text transform="translate(443.24 651.90) scale(1.4629 1.4879)" fill="#ff0000" stroke="#ff0000" stroke-width="0.15">A2</text>
<text transform="translate(556.74 1006.70) scale(1.4560 1.4758)" fill="#0000ff" stroke="#0000ff" stroke-width="0.15">A1</text>
<text transform="translate(1225.35 943.60) scale(1.3126 1.3394)" fill="#00ff00" stroke="#00ff00" stroke-width="0.3">Δt</text>
</g>
<text transform="translate(1284.79 924.44) scale(0.9919 1.2704)" font-family="'DejaVu Sans','Liberation Sans',sans-serif" font-size="100" fill="#00ff00" stroke="#00ff00" stroke-width="2.0" stroke-linejoin="round" vector-effect="non-scaling-stroke">^</text>
</svg>
</body></html>
